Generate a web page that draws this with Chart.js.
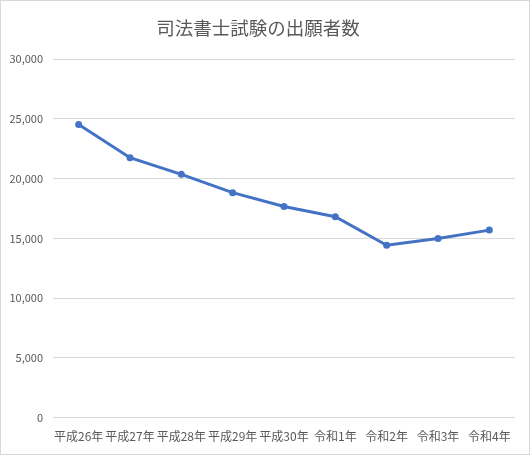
<!DOCTYPE html>
<html>
<head>
<meta charset="utf-8">
<script src="https://cdn.jsdelivr.net/npm/chart.js@4"></script>
<style>
  html, body { margin: 0; padding: 0; background: #fff; }
  #wrap { width: 530px; height: 455px; box-sizing: border-box; border: 1px solid #d9d9d9; }
  #chart { display: block; }
</style>
</head>
<body>
<div id="wrap"><canvas id="chart" width="528" height="453"></canvas></div>
<script>
// Categories and values
const years = ['平成26年', '平成27年', '平成28年', '平成29年', '平成30年', '令和1年', '令和2年', '令和3年', '令和4年'];
const applicants = [24538, 21754, 20360, 18831, 17668, 16811, 14431, 14988, 15693];
const yTicks = [0, 5000, 10000, 15000, 20000, 25000, 30000];

const lineColor = '#4472C4';
const textColor = '#595959';
const gridColor = '#d9d9d9';
const fontFamily = '"Noto Sans CJK JP", "Liberation Sans", sans-serif';

new Chart(document.getElementById('chart'), {
    type: 'line',
    data: {
        labels: years,
        datasets: [{
            label: '出願者数',
            data: applicants,
            borderColor: lineColor,
            backgroundColor: lineColor,
            borderWidth: 3,
            pointRadius: 3.5,
            pointBorderWidth: 0,
            tension: 0
        }]
    },
    options: {
        responsive: false,
        animation: false,
        layout: {
            padding: { left: 0, right: 14, top: 0, bottom: 6 }
        },
        plugins: {
            legend: { display: false },
            tooltip: { enabled: false },
            title: {
                display: true,
                text: '司法書士試験の出願者数',
                color: textColor,
                font: { family: fontFamily, size: 18.5, weight: 'normal' },
                padding: { top: 16, bottom: 20 }
            }
        },
        scales: {
            x: {
                offset: true,
                grid: { display: false },
                border: { display: false },
                ticks: {
                    color: textColor,
                    font: { family: fontFamily, size: 12 },
                    maxRotation: 0,
                    autoSkip: false,
                    padding: 4
                }
            },
            y: {
                min: 0,
                max: 30000,
                afterFit: (scale) => { scale.width = 52; },
                afterBuildTicks: (scale) => { scale.ticks = yTicks.map(v => ({ value: v })); },
                grid: { color: gridColor, drawTicks: false },
                border: { display: false },
                ticks: {
                    color: textColor,
                    font: { family: fontFamily, size: 11 },
                    padding: 10,
                    callback: (v) => v.toLocaleString('en-US')
                }
            }
        }
    }
});
</script>
</body>
</html>
